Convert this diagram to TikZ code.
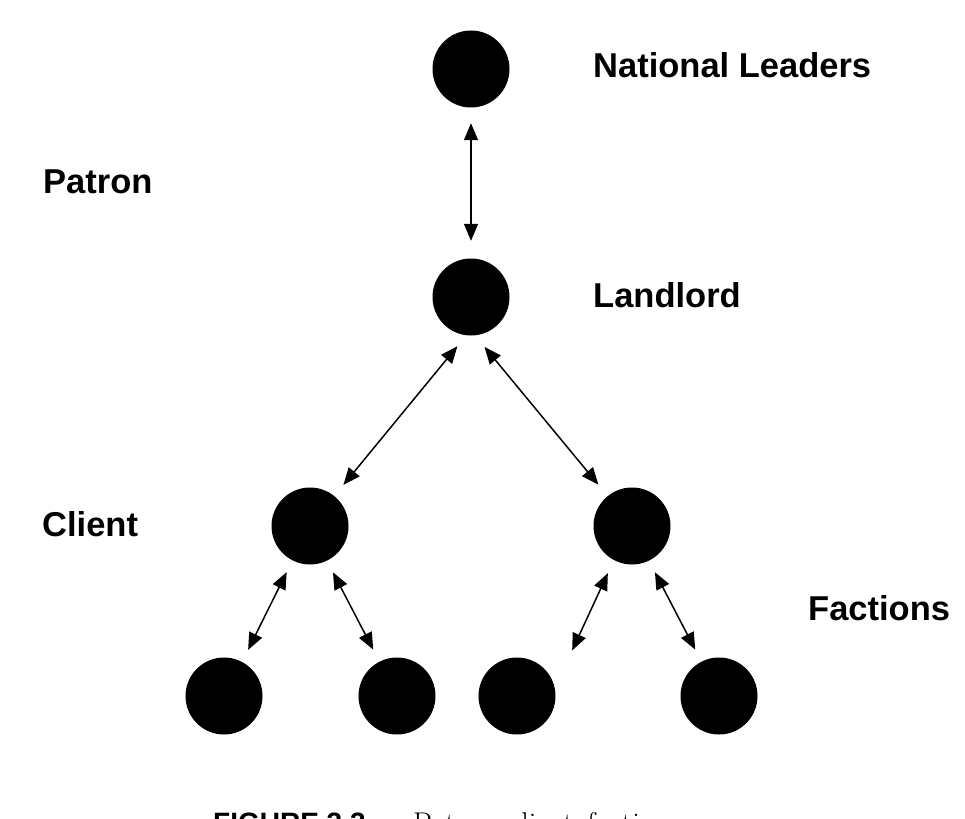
\documentclass[tikz,border=0pt]{standalone}
\usepackage{fontspec}
\newfontfamily\labelfont{Liberation Sans}
\usetikzlibrary{arrows.meta}
\begin{document}
\begin{tikzpicture}[x=1pt,y=-1pt,
  dot/.style={circle,fill=black,draw=none,minimum size=77pt,inner sep=0pt},
  lbl/.style={anchor=base west,inner sep=0pt,font=\labelfont\bfseries\fontsize{34.5}{40}\selectfont},
  link/.style={line width=1.5pt,{Triangle[length=17pt,width=14pt]}-{Triangle[length=17pt,width=14pt]}},
  capbold/.style={anchor=base west,inner sep=0pt,font=\labelfont\bfseries\fontsize{28}{32}\selectfont},
  captext/.style={anchor=base west,inner sep=0pt,font=\fontsize{30}{34}\selectfont}]
\useasboundingbox (0,0) rectangle (965,818);
\fill[white] (0,0) rectangle (965,818);
% nodes
\node[dot] (nl) at (471,69) {};
\node[dot] (ll) at (471,297) {};
\node[dot] (cl) at (310,526) {};
\node[dot] (cr) at (632,526) {};
\node[dot] (b1) at (224,696) {};
\node[dot] (b2) at (397,696) {};
\node[dot] (b3) at (517,696) {};
\node[dot] (b4) at (719,696) {};
% labels
\node[lbl] (tnl) at (593,78) {National Leaders};
\node[lbl] (tpa) at (43,194) {Patron};
\node[lbl] (tll) at (593,307) {Landlord};
\node[lbl] (tcl) at (42,536) {Client};
\node[lbl] (tfa) at (808,620) {Factions};
% connectors
\draw[link,shorten <=15.5pt,shorten >=17.5pt] (nl.south) -- (ll.north);
\draw[link,shorten <=14pt,shorten >=14.3pt] (ll.263.3) -- (cl.51.1);
\draw[link,shorten <=14.8pt,shorten >=14.6pt] (ll.276.9) -- (cr.129.5);
\draw[link,shorten <=13pt,shorten >=13.4pt] (cl.243.4) -- (b1.62.1);
\draw[link,shorten <=13pt,shorten >=13.4pt] (cl.296.6) -- (b2.117.9);
\draw[link,shorten <=14.3pt,shorten >=41.3pt] (cr.242.2) -- (b3.12.9);
\draw[link,shorten <=12.9pt,shorten >=13.4pt] (cr.296.4) -- (b4.117.7);
% caption (cut off at the bottom edge)
\begin{scope}
\clip (0,0) rectangle (965,818);
\node[capbold] (capa) at (213,832) {FIGURE 3.3};
\node[captext] (capb) at (413,833.5) {Patron–client–factions};
\end{scope}
\end{tikzpicture}
\end{document}
